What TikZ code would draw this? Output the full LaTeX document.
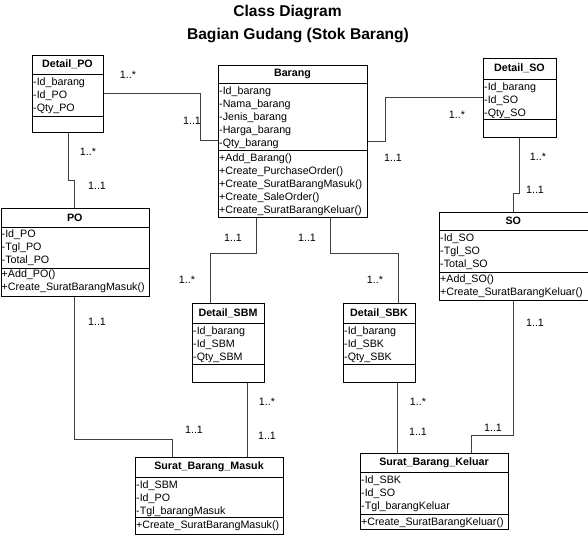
\documentclass[tikz,border=0pt]{standalone}
\usepackage{fontspec}
\setmainfont{Liberation Sans}
\begin{document}
\begin{tikzpicture}[x=1pt,y=-1pt,
  box/.style={draw=black,line width=0.8pt,inner sep=0pt,anchor=north west},
  divider/.style={draw=black,line width=0.8pt},
  conn/.style={draw=black!75,line width=0.8pt},
  ttl/.style={font=\fontsize{10.7}{13}\selectfont\bfseries,inner sep=0pt},
  rows/.style={anchor=north west,align=left,inner xsep=1pt,inner ysep=1.7pt,font=\fontsize{10.7}{13}\selectfont},
  mult/.style={font=\fontsize{10.7}{13}\selectfont,inner sep=0pt},
  head/.style={font=\fontsize{15.6}{18}\selectfont\bfseries,inner sep=0pt}]
\useasboundingbox (0,0) rectangle (588,535);

% #1 name, #2 left, #3 top, #4 right, #5 header divider, #6 attribute divider, #7 bottom, #8 title
\newcommand\umlclass[8]{%
  \node[box,minimum width=#4pt-#2pt,minimum height=#7pt-#3pt] (#1) at (#2,#3) {};
  \draw[divider] (#2,#5) -- (#4,#5);
  \draw[divider] (#2,#6) -- (#4,#6);
  \node[ttl] (#1-title) at ({(#2+#4)/2},{(#3+#5)/2}) {#8};
}

% titles
\node[head] (t1) at (287.5,13) {Class Diagram};
\node[head] (t2) at (298,36) {Bagian Gudang (Stok Barang)};

% classes
\umlclass{dpo}{32}{55}{103}{74}{116}{132}{Detail\_PO}
\node[rows] (dpo-a) at (32,74) {\strut-Id\_barang\\-Id\_PO\\-Qty\_PO};

\umlclass{barang}{218}{65}{367}{83}{150}{217}{Barang}
\node[rows] (barang-a) at (218,83) {\strut-Id\_barang\\-Nama\_barang\\-Jenis\_barang\\-Harga\_barang\\-Qty\_barang};
\node[rows] (barang-m) at (218,150) {\strut+Add\_Barang()\\+Create\_PurchaseOrder()\\+Create\_SuratBarangMasuk()\\+Create\_SaleOrder()\\+Create\_SuratBarangKeluar()};

\umlclass{dso}{483}{58}{556}{79}{119}{137}{Detail\_SO}
\node[rows] (dso-a) at (483,79) {\strut-Id\_barang\\-Id\_SO\\-Qty\_SO};

\umlclass{po}{0.5}{208}{149}{227}{268}{296}{PO}
\node[rows] (po-a) at (0.5,226) {\strut-Id\_PO\\-Tgl\_PO\\-Total\_PO};
\node[rows,inner ysep=0.5pt] (po-m) at (0.5,268) {\strut+Add\_PO()\\+Create\_SuratBarangMasuk()};

\umlclass{so}{439}{212}{587.5}{230}{272}{300}{SO}
\node[rows] (so-a) at (439,230) {\strut-Id\_SO\\-Tgl\_SO\\-Total\_SO};
\node[rows,inner ysep=1pt] (so-m) at (439,272) {\strut+Add\_SO()\\+Create\_SuratBarangKeluar()};

\umlclass{dsbm}{192}{303}{264}{323}{364}{382}{Detail\_SBM}
\node[rows] (dsbm-a) at (192,323) {\strut-Id\_barang\\-Id\_SBM\\-Qty\_SBM};

\umlclass{dsbk}{343}{303}{415}{323}{364}{382}{Detail\_SBK}
\node[rows] (dsbk-a) at (343,323) {\strut-Id\_barang\\-Id\_SBK\\-Qty\_SBK};

\umlclass{sbm}{135}{457}{283}{477}{517}{534}{Surat\_Barang\_Masuk}
\node[rows] (sbm-a) at (135,477) {\strut-Id\_SBM\\-Id\_PO\\-Tgl\_barangMasuk};
\node[rows,inner ysep=2.5pt] (sbm-m) at (135,517) {\strut+Create\_SuratBarangMasuk()};

\umlclass{sbk}{360}{453}{508}{472}{514}{529}{Surat\_Barang\_Keluar}
\node[rows] (sbk-a) at (360,472) {\strut-Id\_SBK\\-Id\_SO\\-Tgl\_barangKeluar};
\node[rows,inner ysep=2pt] (sbk-m) at (360,514) {\strut+Create\_SuratBarangKeluar()};

% connectors
\draw[conn] (dpo.east |- 0,93) -| (200,140) -- (barang.west |- 0,140);
\draw[conn] (barang.east |- 0,141) -| (385,97) -- (dso.west |- 0,97);
\draw[conn] (dpo.south -| 68,0) |- (74,180) -- (po.north -| 74,0);
\draw[conn] (dso.south -| 519,0) |- (513,193) -- (so.north -| 513,0);
\draw[conn] (barang.south -| 256,0) |- (210,253) -- (dsbm.north -| 210,0);
\draw[conn] (barang.south -| 330,0) |- (398,253) -- (dsbk.north -| 398,0);
\draw[conn] (po.south -| 74,0) |- (172,439) -- (sbm.north -| 172,0);
\draw[conn] (dsbm.south -| 247,0) -- (sbm.north -| 247,0);
\draw[conn] (dsbk.south -| 397,0) -- (sbk.north -| 397,0);
\draw[conn] (so.south -| 513,0) |- (471,435) -- (sbk.north -| 471,0);

% multiplicities
\node[mult] (m1) at (128,75) {1..*};
\node[mult] (m2) at (192,121) {1..1};
\node[mult] (m3) at (88,152) {1..*};
\node[mult] (m4) at (97,186) {1..1};
\node[mult] (m5) at (457,115) {1..*};
\node[mult] (m6) at (393,158) {1..1};
\node[mult] (m7) at (538,157) {1..*};
\node[mult] (m8) at (535,190) {1..1};
\node[mult] (m9) at (233,238) {1..1};
\node[mult] (m10) at (307,238) {1..1};
\node[mult] (m11) at (187,280) {1..*};
\node[mult] (m12) at (375,280) {1..*};
\node[mult] (m13) at (97,322) {1..1};
\node[mult] (m14) at (194,430) {1..1};
\node[mult] (m15) at (267,402) {1..*};
\node[mult] (m16) at (267,436) {1..1};
\node[mult] (m17) at (418,402) {1..*};
\node[mult] (m18) at (418,432) {1..1};
\node[mult] (m19) at (535,323) {1..1};
\node[mult] (m20) at (493,428) {1..1};
\end{tikzpicture}
\end{document}
